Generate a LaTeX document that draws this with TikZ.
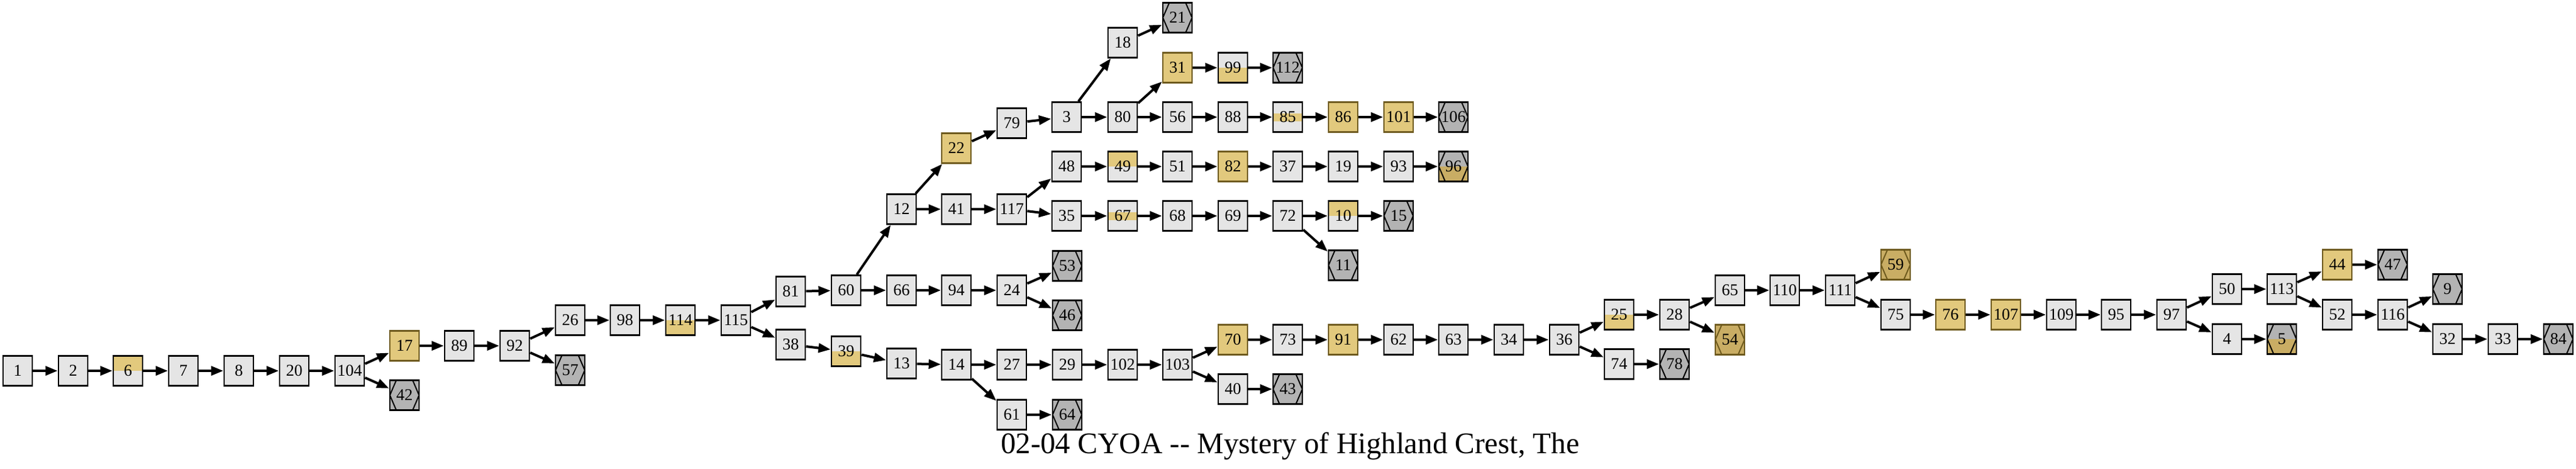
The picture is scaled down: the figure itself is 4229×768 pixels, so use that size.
\documentclass[tikz,border=0pt]{standalone}
\usepackage{fontspec}
\setmainfont{Liberation Serif}
\usetikzlibrary{calc,arrows.meta}
\definecolor{lg}{HTML}{E5E5E5}
\definecolor{gold}{HTML}{E2C97D}
\definecolor{goldd}{HTML}{C9AD64}
\definecolor{goldb}{HTML}{6E5A1E}
\definecolor{eg}{HTML}{B3B3B3}
\begin{document}
\begin{tikzpicture}[x=0.5pt,y=-0.5pt,
 n/.style={draw=black,line width=1.4pt,fill=lg,minimum width=24pt,minimum height=24.5pt,inner sep=0pt,font=\fontsize{13.5}{13.5}\selectfont},
 g/.style={n,fill=gold,draw=goldb},
 band/.style 2 args={path picture={\fill[gold] ($(path picture bounding box.north west)!#1!(path picture bounding box.south west)$) rectangle ($(path picture bounding box.north east)!#2!(path picture bounding box.south east)$);}},
 hexl/.style={path picture={\draw[line width=1pt,#1] ($(path picture bounding box.north west)!0.22!(path picture bounding box.north east)$) -- ($(path picture bounding box.north west)!0.5!(path picture bounding box.south west)$) -- ($(path picture bounding box.south west)!0.22!(path picture bounding box.south east)$);
 \draw[line width=1pt,#1] ($(path picture bounding box.north west)!0.78!(path picture bounding box.north east)$) -- ($(path picture bounding box.north east)!0.5!(path picture bounding box.south east)$) -- ($(path picture bounding box.south west)!0.78!(path picture bounding box.south east)$);}},
 e/.style={n,fill=eg,hexl=black},
 eg2/.style={n,fill=goldd,draw=goldb,hexl=goldb},
 ehalf/.style={n,fill=eg,path picture={\fill[goldd] ($(path picture bounding box.north west)!0.5!(path picture bounding box.south west)$) rectangle (path picture bounding box.south east);
 \draw[line width=1pt] ($(path picture bounding box.north west)!0.22!(path picture bounding box.north east)$) -- ($(path picture bounding box.north west)!0.5!(path picture bounding box.south west)$) -- ($(path picture bounding box.south west)!0.22!(path picture bounding box.south east)$);
 \draw[line width=1pt] ($(path picture bounding box.north west)!0.78!(path picture bounding box.north east)$) -- ($(path picture bounding box.north east)!0.5!(path picture bounding box.south east)$) -- ($(path picture bounding box.south west)!0.78!(path picture bounding box.south east)$);}},
 a/.style={-{Triangle[length=10pt,width=7.5pt]},line width=2pt}]
\useasboundingbox (0,0) rectangle (4229,768);
% main row
\node[n] (1) at (29,608) {1};
\node[n] (2) at (120,608) {2};
\node[n,band={0}{0.5}] (6) at (210,608) {6};
\node[n] (7) at (301,608) {7};
\node[n] (8) at (392,608) {8};
\node[n] (20) at (483,608) {20};
\node[n] (104) at (574,608) {104};
\node[g] (17) at (664,567) {17};
\node[e] (42) at (664,648) {42};
\node[n] (89) at (754,567) {89};
\node[n] (92) at (845,567) {92};
\node[n] (26) at (936,525) {26};
\node[e] (57) at (936,607) {57};
\node[n] (98) at (1026,525) {98};
\node[n,band={0.5}{1}] (114) at (1117,525) {114};
\node[n] (115) at (1208,525) {115};
\node[n] (81) at (1298,478) {81};
\node[n] (38) at (1298,565) {38};
\node[n] (60) at (1389,476) {60};
\node[n] (66) at (1480,476) {66};
\node[n] (94) at (1570,476) {94};
\node[n] (24) at (1661,476) {24};
\node[e] (53) at (1752,436) {53};
\node[e] (46) at (1752,517) {46};
\node[n,band={0.5}{1}] (39) at (1389,576) {39};
\node[n] (13) at (1480,596) {13};
\node[n] (14) at (1570,598) {14};
\node[n] (27) at (1661,598) {27};
\node[n] (29) at (1752,598) {29};
\node[n] (61) at (1661,680) {61};
\node[e] (64) at (1752,680) {64};
\node[n] (102) at (1843,598) {102};
\node[n] (103) at (1933,598) {103};
\node[g] (70) at (2024,557) {70};
\node[n] (40) at (2024,638) {40};
\node[e] (43) at (2114,638) {43};
\node[n] (73) at (2114,557) {73};
\node[g] (91) at (2205,557) {91};
\node[n] (62) at (2296,557) {62};
\node[n] (63) at (2386,557) {63};
\node[n] (34) at (2477,557) {34};
\node[n] (36) at (2568,557) {36};
\node[n,band={0.5}{1}] (25) at (2658,516) {25};
\node[n] (74) at (2658,597) {74};
\node[e] (78) at (2749,597) {78};
\node[n] (28) at (2749,516) {28};
\node[eg2] (54) at (2840,557) {54};
\node[n] (65) at (2840,476) {65};
\node[n] (110) at (2930,476) {110};
\node[n] (111) at (3021,476) {111};
\node[eg2] (59) at (3112,434) {59};
\node[n] (75) at (3112,516) {75};
\node[g] (76) at (3202,516) {76};
\node[g] (107) at (3293,516) {107};
\node[n] (109) at (3384,516) {109};
\node[n] (95) at (3474,516) {95};
\node[n] (97) at (3565,516) {97};
\node[n] (50) at (3656,474) {50};
\node[n] (4) at (3656,556) {4};
\node[ehalf] (5) at (3746,556) {5};
\node[n] (113) at (3746,474) {113};
\node[g] (44) at (3837,434) {44};
\node[e] (47) at (3928,434) {47};
\node[n] (52) at (3837,516) {52};
\node[n] (116) at (3928,516) {116};
\node[e] (9) at (4018,474) {9};
\node[n] (32) at (4018,556) {32};
\node[n] (33) at (4109,556) {33};
\node[e] (84) at (4200,556) {84};
% upper part
\node[n] (12) at (1480,343) {12};
\node[g] (22) at (1570,243) {22};
\node[n] (79) at (1661,202) {79};
\node[n] (3) at (1751,192) {3};
\node[n] (18) at (1843,70) {18};
\node[e] (21) at (1933,29) {21};
\node[n] (80) at (1843,192) {80};
\node[g] (31) at (1933,111) {31};
\node[n,band={0.5}{1}] (99) at (2024,111) {99};
\node[e] (112) at (2114,111) {112};
\node[n] (56) at (1933,192) {56};
\node[n] (88) at (2024,192) {88};
\node[n,band={0.38}{0.65}] (85) at (2114,192) {85};
\node[g] (86) at (2205,192) {86};
\node[g] (101) at (2296,192) {101};
\node[e] (106) at (2386,192) {106};
\node[n] (41) at (1570,343) {41};
\node[n] (117) at (1661,343) {117};
\node[n] (48) at (1751,273) {48};
\node[n,band={0}{0.5}] (49) at (1843,273) {49};
\node[n] (51) at (1933,273) {51};
\node[g] (82) at (2024,273) {82};
\node[n] (37) at (2114,273) {37};
\node[n] (19) at (2205,273) {19};
\node[n] (93) at (2296,273) {93};
\node[ehalf] (96) at (2386,273) {96};
\node[n] (35) at (1751,354) {35};
\node[n,band={0.38}{0.65}] (67) at (1843,354) {67};
\node[n] (68) at (1933,354) {68};
\node[n] (69) at (2024,354) {69};
\node[n] (72) at (2114,354) {72};
\node[n,band={0}{0.5}] (10) at (2205,354) {10};
\node[e] (15) at (2296,354) {15};
\node[e] (11) at (2205,435) {11};
\node (cap) at (2118,732) {\fontsize{24.5}{24.5}\selectfont 02-04 CYOA -{}- Mystery of Highland Crest, The};
% edges
\foreach \s/\t in {1/2,2/6,6/7,7/8,8/20,20/104,104/17,104/42,17/89,89/92,92/26,92/57,26/98,98/114,114/115,115/81,115/38,81/60,60/12,60/66,66/94,94/24,24/53,24/46,38/39,39/13,13/14,14/27,14/61,61/64,27/29,29/102,102/103,103/70,103/40,40/43,70/73,73/91,91/62,62/63,63/34,34/36,36/25,36/74,74/78,25/28,28/65,28/54,65/110,110/111,111/59,111/75,75/76,76/107,107/109,109/95,95/97,97/50,97/4,4/5,50/113,113/44,113/52,44/47,52/116,116/9,116/32,32/33,33/84,12/22,12/41,22/79,79/3,3/18,3/80,18/21,80/31,80/56,31/99,99/112,56/88,88/85,85/86,86/101,101/106,41/117,117/48,117/35,48/49,49/51,51/82,82/37,37/19,19/93,93/96,35/67,67/68,68/69,69/72,72/10,72/11,10/15}
  \draw[a] (\s) -- (\t);
\end{tikzpicture}
\end{document}
